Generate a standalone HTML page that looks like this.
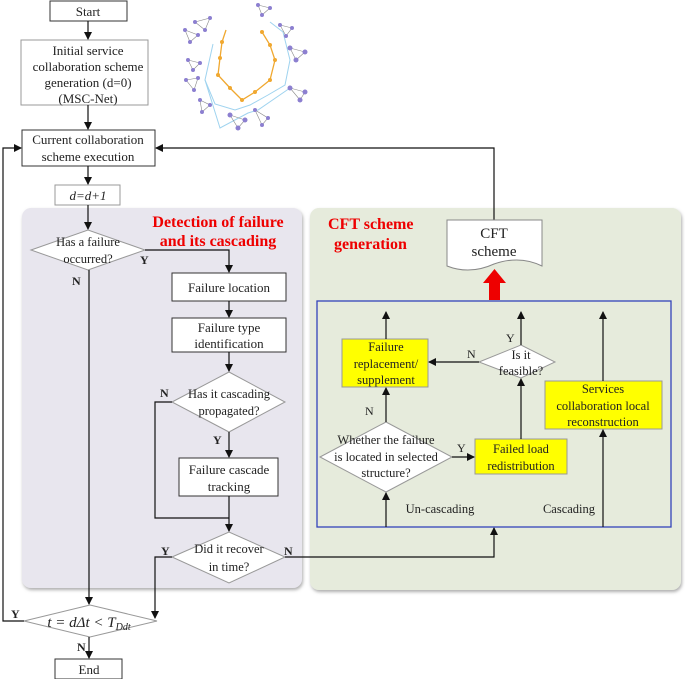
<!DOCTYPE html>
<html><head><meta charset="utf-8"><style>
body{margin:0;background:#fff}
svg{display:block}
text{font-family:"Liberation Serif",serif;fill:#222}
</style></head><body>
<svg width="685" height="679" viewBox="0 0 685 679" xmlns="http://www.w3.org/2000/svg">
<defs>
<marker id="a" markerWidth="8" markerHeight="8" refX="7" refY="4" orient="auto" markerUnits="userSpaceOnUse"><path d="M0,0 L8,4 L0,8 z" fill="#111"/></marker>
<filter id="sh"><feDropShadow dx="1" dy="2" stdDeviation="1.5" flood-color="#777" flood-opacity="0.6"/></filter>
</defs>
<rect x="22" y="208" width="280" height="380" rx="9" fill="#e8e6ee" filter="url(#sh)"/>
<rect x="310" y="208" width="371" height="382" rx="9" fill="#e6ebdc" filter="url(#sh)"/>
<g stroke="#9fd3ef" stroke-width="1" fill="none">
<path d="M213,44 L205,80 L215,104 L235,110 L250,105 L268,95 L285,85 L290,60 L283,32 L270,22"/>
<path d="M205,80 L220,128 L248,113 L258,110 L290,88"/>
</g>
<g stroke="#f0a830" stroke-width="1.3" fill="none">
<path d="M226,30 L222,42 L220,58 L218,75 L230,88 L242,100 L255,92 L270,80 L275,60 L270,45 L262,32"/>
</g>
<g stroke="#888" stroke-width="0.6" fill="none">
<path d="M195,22 L210,18 L205,30 Z M185,30 L198,35 L190,42 Z M188,60 L200,63 L193,70 Z M186,80 L198,78 L194,90 Z M200,100 L210,105 L202,112 Z M230,115 L245,120 L238,128 Z M255,110 L268,118 L262,125 Z M290,48 L305,52 L296,60 Z M290,88 L305,92 L300,100 Z M258,5 L270,8 L262,15 Z M280,25 L292,28 L286,36 Z"/>
</g>
<g fill="#8c7fd0">
<circle cx="195" cy="22" r="2"/><circle cx="210" cy="18" r="2"/><circle cx="205" cy="30" r="2"/><circle cx="185" cy="30" r="2"/><circle cx="198" cy="35" r="2"/><circle cx="190" cy="42" r="2"/><circle cx="188" cy="60" r="2"/><circle cx="200" cy="63" r="2"/><circle cx="193" cy="70" r="2"/><circle cx="186" cy="80" r="2"/><circle cx="198" cy="78" r="2"/><circle cx="194" cy="90" r="2"/><circle cx="200" cy="100" r="2"/><circle cx="210" cy="105" r="2"/><circle cx="202" cy="112" r="2"/><circle cx="230" cy="115" r="2.5"/><circle cx="245" cy="120" r="2.5"/><circle cx="238" cy="128" r="2.5"/><circle cx="255" cy="110" r="2"/><circle cx="268" cy="118" r="2"/><circle cx="262" cy="125" r="2"/><circle cx="290" cy="48" r="2.5"/><circle cx="305" cy="52" r="2.5"/><circle cx="296" cy="60" r="2.5"/><circle cx="290" cy="88" r="2.5"/><circle cx="305" cy="92" r="2.5"/><circle cx="300" cy="100" r="2.5"/><circle cx="258" cy="5" r="2"/><circle cx="270" cy="8" r="2"/><circle cx="262" cy="15" r="2"/><circle cx="280" cy="25" r="2"/><circle cx="292" cy="28" r="2"/><circle cx="286" cy="36" r="2"/>
</g>
<g fill="#f0a830"><circle cx="222" cy="42" r="2"/><circle cx="220" cy="58" r="2"/><circle cx="218" cy="75" r="2"/><circle cx="230" cy="88" r="2"/><circle cx="242" cy="100" r="2"/><circle cx="255" cy="92" r="2"/><circle cx="270" cy="80" r="2"/><circle cx="275" cy="60" r="2"/><circle cx="270" cy="45" r="2"/><circle cx="262" cy="32" r="2"/></g>
<g fill="#fff" stroke="#333" stroke-width="1">
<rect x="50" y="1" width="77" height="20"/>
<rect x="21" y="40" width="127" height="65" stroke="#999"/>
<rect x="22" y="130" width="133" height="36"/>
<rect x="55" y="185" width="65" height="20" stroke="#999"/>
<rect x="172" y="273" width="114" height="28"/>
<rect x="172" y="318" width="114" height="34"/>
<rect x="179" y="458" width="99" height="38"/>
<rect x="55" y="659" width="67" height="20"/>
</g>
<g fill="#fff" stroke="#999" stroke-width="1">
<polygon points="31,250 88,230 145,250 88,270"/>
<polygon points="172,402 229,372 285,402 229,432"/>
<polygon points="172,557 229,532 285,557 229,583"/>
<polygon points="24,621 90,605 157,621 90,637"/>
</g>
<g stroke="#111" stroke-width="1.2" fill="none">
<line x1="88" y1="21" x2="88" y2="39" marker-end="url(#a)"/>
<line x1="88" y1="105" x2="88" y2="129" marker-end="url(#a)"/>
<line x1="88" y1="166" x2="88" y2="184" marker-end="url(#a)"/>
<line x1="88" y1="205" x2="88" y2="229" marker-end="url(#a)"/>
<line x1="89" y1="270" x2="89" y2="604" marker-end="url(#a)"/>
<polyline points="145,250 229,250 229,272" marker-end="url(#a)"/>
<line x1="229" y1="301" x2="229" y2="317" marker-end="url(#a)"/>
<line x1="229" y1="352" x2="229" y2="371" marker-end="url(#a)"/>
<line x1="229" y1="432" x2="229" y2="457" marker-end="url(#a)"/>
<polyline points="229,496 229,531" marker-end="url(#a)"/>
<polyline points="172,402 155,402 155,518 229,518"/>
<polyline points="172,557 155,557 155,618" marker-end="url(#a)"/>
<polyline points="285,557 494,557 494,528" marker-end="url(#a)"/>
<line x1="89" y1="637" x2="89" y2="658" marker-end="url(#a)"/>
<polyline points="24,621 3,621 3,148 21,148" marker-end="url(#a)"/>
<polyline points="494,220 494,148 156,148" marker-end="url(#a)"/>
</g>
<rect x="317" y="301" width="354" height="226" fill="none" stroke="#3344bb" stroke-width="1.3"/>
<path d="M447,220 L542,220 L542,266 Q520,255 494,264 Q470,275 447,266 Z" fill="#fff" stroke="#888"/>
<polygon points="489,300 500,300 500,283 506,283 494.5,269 483,283 489,283" fill="#e00"/>
<g fill="#ff0" stroke="#999">
<rect x="342" y="339" width="86" height="48"/>
<rect x="545" y="381" width="117" height="48"/>
<rect x="475" y="439" width="92" height="35"/>
</g>
<g fill="#fff" stroke="#999">
<polygon points="479,362 521,345 555,362 521,378"/>
<polygon points="320,457 386,422 452,457 386,492"/>
</g>
<g stroke="#111" stroke-width="1.2" fill="none">
<line x1="386" y1="339" x2="386" y2="312" marker-end="url(#a)"/>
<line x1="521" y1="345" x2="521" y2="312" marker-end="url(#a)"/>
<line x1="603" y1="381" x2="603" y2="312" marker-end="url(#a)"/>
<line x1="479" y1="362" x2="429" y2="362" marker-end="url(#a)"/>
<line x1="386" y1="422" x2="386" y2="388" marker-end="url(#a)"/>
<line x1="452" y1="457" x2="474" y2="457" marker-end="url(#a)"/>
<line x1="521" y1="439" x2="521" y2="379" marker-end="url(#a)"/>
<line x1="386" y1="527" x2="386" y2="493" marker-end="url(#a)"/>
<line x1="603" y1="527" x2="603" y2="430" marker-end="url(#a)"/>
</g>
<g font-size="13" text-anchor="middle">
<text x="88" y="16">Start</text>
<text x="88" y="55">Initial service</text>
<text x="88" y="71">collaboration scheme</text>
<text x="88" y="87">generation (d=0)</text>
<text x="88" y="103">(MSC-Net)</text>
<text x="88" y="144">Current collaboration</text>
<text x="88" y="161">scheme execution</text>
<text x="88" y="200" font-style="italic">d=d+1</text>
<text x="88" y="246" font-size="12.5">Has a failure</text>
<text x="88" y="263" font-size="12.5">occurred?</text>
<text x="229" y="292">Failure location</text>
<text x="229" y="332">Failure type</text>
<text x="229" y="348">identification</text>
<text x="229" y="398" font-size="12.5">Has it cascading</text>
<text x="229" y="415" font-size="12.5">propagated?</text>
<text x="229" y="474">Failure cascade</text>
<text x="229" y="491">tracking</text>
<text x="229" y="553" font-size="12.5">Did it recover</text>
<text x="229" y="571" font-size="12.5">in time?</text>
<text x="89" y="627" font-size="15" font-style="italic">t = dΔt &lt; T<tspan font-size="10" dy="3">Ddt</tspan></text>
<text x="89" y="674">End</text>
<text x="494" y="238" font-size="15">CFT</text>
<text x="494" y="256" font-size="15">scheme</text>
<text x="386" y="351" font-size="12.5">Failure</text>
<text x="386" y="368" font-size="12.5">replacement/</text>
<text x="386" y="384" font-size="12.5">supplement</text>
<text x="521" y="359" font-size="12.5">Is it</text>
<text x="521" y="375" font-size="12.5">feasible?</text>
<text x="603" y="393" font-size="12.5">Services</text>
<text x="603" y="410" font-size="12.5">collaboration local</text>
<text x="603" y="426" font-size="12.5">reconstruction</text>
<text x="386" y="444" font-size="12.5">Whether the failure</text>
<text x="386" y="461" font-size="12.5">is located in selected</text>
<text x="386" y="477" font-size="12.5">structure?</text>
<text x="521" y="453" font-size="12.5">Failed load</text>
<text x="521" y="470" font-size="12.5">redistribution</text>
<text x="440" y="513" font-size="12.5">Un-cascading</text>
<text x="569" y="513" font-size="12.5">Cascading</text>
</g>
<g font-size="12" font-weight="bold">
<text x="140" y="264">Y</text>
<text x="72" y="285">N</text>
<text x="160" y="397">N</text>
<text x="213" y="444">Y</text>
<text x="161" y="555">Y</text>
<text x="284" y="555">N</text>
<text x="11" y="618">Y</text>
<text x="77" y="651">N</text>
</g>
<g font-size="12">
<text x="506" y="342">Y</text>
<text x="467" y="358">N</text>
<text x="365" y="415">N</text>
<text x="457" y="452">Y</text>
</g>
<g font-size="16" font-weight="bold">
<text x="218" y="227" text-anchor="middle" style="fill:#e00">Detection of failure</text>
<text x="218" y="246" text-anchor="middle" style="fill:#e00">and its cascading</text>
<text x="328" y="229" style="fill:#e00">CFT scheme</text>
<text x="334" y="249" style="fill:#e00">generation</text>
</g>
</svg>
</body></html>
